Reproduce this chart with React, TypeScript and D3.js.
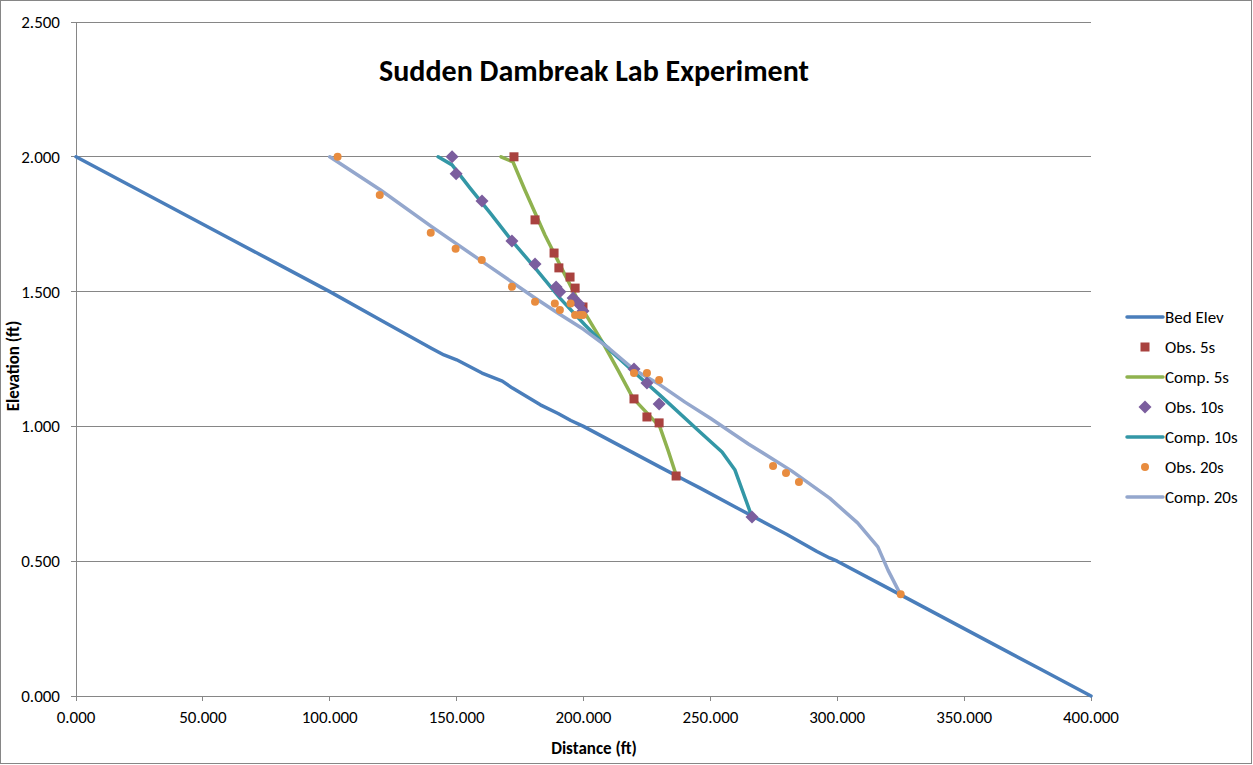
import { scaleLinear, line, range } from 'd3'

const width = 1253
const height = 765

const margin = { top: 22, right: 162, bottom: 69, left: 76 }
const innerWidth = width - margin.left - margin.right
const innerHeight = height - margin.top - margin.bottom

// [distance (ft), elevation (ft)]
const bedElev = [
  [0, 2.0], [20, 1.9], [40, 1.8], [60, 1.7], [80, 1.6], [100, 1.5], [120, 1.395],
  [140, 1.29], [145, 1.265], [150, 1.247], [160, 1.198], [168, 1.168], [172, 1.142],
  [183, 1.08], [190, 1.048], [195, 1.022], [200, 1.0], [220, 0.9], [230, 0.85],
  [240, 0.8], [246, 0.771], [260, 0.7], [280, 0.6], [292, 0.536], [297, 0.512],
  [300, 0.5], [320, 0.4], [340, 0.3], [360, 0.2], [380, 0.1], [400, 0.0],
]

const obs5s = [
  [172.6, 2.0], [180.9, 1.766], [188.4, 1.643], [190.3, 1.588], [194.7, 1.554],
  [196.7, 1.513], [199.8, 1.443], [219.9, 1.102], [225.0, 1.035], [229.8, 1.013],
  [236.5, 0.816],
]

const comp5s = [
  [167.5, 2.0], [172.2, 1.981], [176.9, 1.877], [184.8, 1.71], [192.7, 1.562],
  [199.8, 1.432], [207.7, 1.309], [213.6, 1.209], [219.5, 1.105], [226.0, 1.04],
  [230.1, 0.998], [233.3, 0.912], [236.5, 0.82],
]

const obs10s = [
  [148.2, 2.0], [149.8, 1.937], [160.0, 1.836], [171.8, 1.688], [180.9, 1.602],
  [189.2, 1.517], [190.7, 1.499], [195.9, 1.476], [198.2, 1.454], [199.8, 1.428],
  [219.9, 1.213], [225.0, 1.161], [229.8, 1.083], [266.4, 0.664],
]

const comp10s = [
  [142.7, 2.0], [148.2, 1.97], [155.3, 1.884], [163.2, 1.792], [171.8, 1.688],
  [180.9, 1.588], [190.7, 1.476], [200.6, 1.376], [210.4, 1.283], [219.9, 1.202],
  [230.1, 1.116], [245.9, 0.979], [254.6, 0.905], [259.7, 0.838], [266.4, 0.664],
]

const obs20s = [
  [103.1, 2.0], [119.7, 1.858], [139.8, 1.718], [149.6, 1.659], [159.9, 1.617],
  [171.8, 1.518], [180.9, 1.462], [188.7, 1.456], [190.7, 1.432], [194.9, 1.456],
  [196.7, 1.413], [198.6, 1.413], [199.8, 1.413], [219.9, 1.198], [225.0, 1.198],
  [229.8, 1.172], [274.7, 0.853], [279.8, 0.827], [284.9, 0.794], [325.0, 0.377],
]

const comp20s = [
  [100, 2.0], [120, 1.877], [140, 1.742], [160, 1.612], [180, 1.482], [190, 1.42],
  [200, 1.36], [210, 1.29], [220, 1.21], [230, 1.155], [240, 1.09], [250, 1.03],
  [265, 0.935], [282, 0.835], [297, 0.734], [308, 0.642], [316, 0.553], [320, 0.467],
  [325, 0.375],
]

const xTicks = range(0, 401, 50)
const yTicks = range(0, 2.501, 0.5)

const colors = {
  bed: '#4A7EBB',
  obs5: '#A9423F',
  comp5: '#8FB24F',
  obs10: '#7B5E9E',
  comp10: '#3397A6',
  obs20: '#E88C3F',
  comp20: '#94A7CD',
}

const font = 'Calibri, Carlito, "Open Sans", sans-serif'

const App = () => {
  const xScale = scaleLinear().domain([0, 400]).range([0, innerWidth])
  const yScale = scaleLinear().domain([0, 2.5]).range([innerHeight, 0])

  const path = line()
    .x((d) => xScale(d[0]))
    .y((d) => yScale(d[1]))

  const lines = [
    { data: bedElev, color: colors.bed },
    { data: comp5s, color: colors.comp5 },
    { data: comp10s, color: colors.comp10 },
    { data: comp20s, color: colors.comp20 },
  ]

  const legend = [
    { label: 'Bed Elev', type: 'line', color: colors.bed },
    { label: 'Obs. 5s', type: 'square', color: colors.obs5 },
    { label: 'Comp. 5s', type: 'line', color: colors.comp5 },
    { label: 'Obs. 10s', type: 'diamond', color: colors.obs10 },
    { label: 'Comp. 10s', type: 'line', color: colors.comp10 },
    { label: 'Obs. 20s', type: 'circle', color: colors.obs20 },
    { label: 'Comp. 20s', type: 'line', color: colors.comp20 },
  ]

  const marker = (type, color, cx, cy, key?) => {
    if (type === 'square')
      return <rect key={key} x={cx - 4.5} y={cy - 4.5} width={9} height={9} fill={color} />
    if (type === 'diamond')
      return (
        <path key={key} d={`M${cx},${cy - 6.5}L${cx + 6.5},${cy}L${cx},${cy + 6.5}L${cx - 6.5},${cy}Z`} fill={color} />
      )
    if (type === 'circle') return <circle key={key} cx={cx} cy={cy} r={4} fill={color} />
    return <line key={key} x1={cx - 18} x2={cx + 18} y1={cy} y2={cy} stroke={color} strokeWidth={3.5} strokeLinecap="round" />
  }

  return (
    <svg width={width} height={height} style={{ position: 'absolute', left: 0, top: 0, background: '#fff' }} fontFamily={font}>
      <rect x={0.5} y={0.5} width={width - 2} height={height - 2} fill="#fff" stroke="#868686" />
      <g transform={`translate(${margin.left},${margin.top})`}>
        {yTicks.map((t) => (
          <g key={t}>
            <line x1={-5} x2={innerWidth} y1={yScale(t)} y2={yScale(t)} stroke="#868686" strokeWidth={1} shapeRendering="crispEdges" />
            <text x={-16} y={yScale(t)} dy="0.35em" textAnchor="end" fontSize={17} fill="#000">
              {t.toFixed(3)}
            </text>
          </g>
        ))}
        <line x1={0} x2={0} y1={0} y2={innerHeight} stroke="#868686" shapeRendering="crispEdges" />
        {xTicks.map((t) => (
          <g key={t}>
            <line x1={xScale(t)} x2={xScale(t)} y1={innerHeight} y2={innerHeight + 5} stroke="#868686" shapeRendering="crispEdges" />
            <text x={xScale(t)} y={innerHeight + 21} dy="0.35em" textAnchor="middle" fontSize={17} fill="#000">
              {t.toFixed(3)}
            </text>
          </g>
        ))}

        {lines.map((l, i) => (
          <path key={i} d={path(l.data)} fill="none" stroke={l.color} strokeWidth={3.5} strokeLinejoin="round" strokeLinecap="round" />
        ))}
        {obs5s.map((d, i) => marker('square', colors.obs5, xScale(d[0]), yScale(d[1]), 's' + i))}
        {obs10s.map((d, i) => marker('diamond', colors.obs10, xScale(d[0]), yScale(d[1]), 'd' + i))}
        {obs20s.map((d, i) => marker('circle', colors.obs20, xScale(d[0]), yScale(d[1]), 'c' + i))}
      </g>

      <text x={594} y={70} textAnchor="middle" fontSize={30} fontWeight="bold" fill="#000" dy="0.35em">
        Sudden Dambreak Lab Experiment
      </text>
      <text x={594} y={748} textAnchor="middle" fontSize={17} fontWeight="bold" fill="#000" dy="0.35em">
        Distance (ft)
      </text>
      <text transform="translate(13,366) rotate(-90)" textAnchor="middle" fontSize={17} fontWeight="bold" fill="#000" dy="0.35em">
        Elevation (ft)
      </text>

      {legend.map((item, i) => {
        const cy = 317 + i * 30
        return (
          <g key={item.label}>
            {marker(item.type, item.color, 1145, cy)}
            <text x={1165} y={cy} dy="0.35em" fontSize={17} fill="#000">
              {item.label}
            </text>
          </g>
        )
      })}
    </svg>
  )
}

export default App
